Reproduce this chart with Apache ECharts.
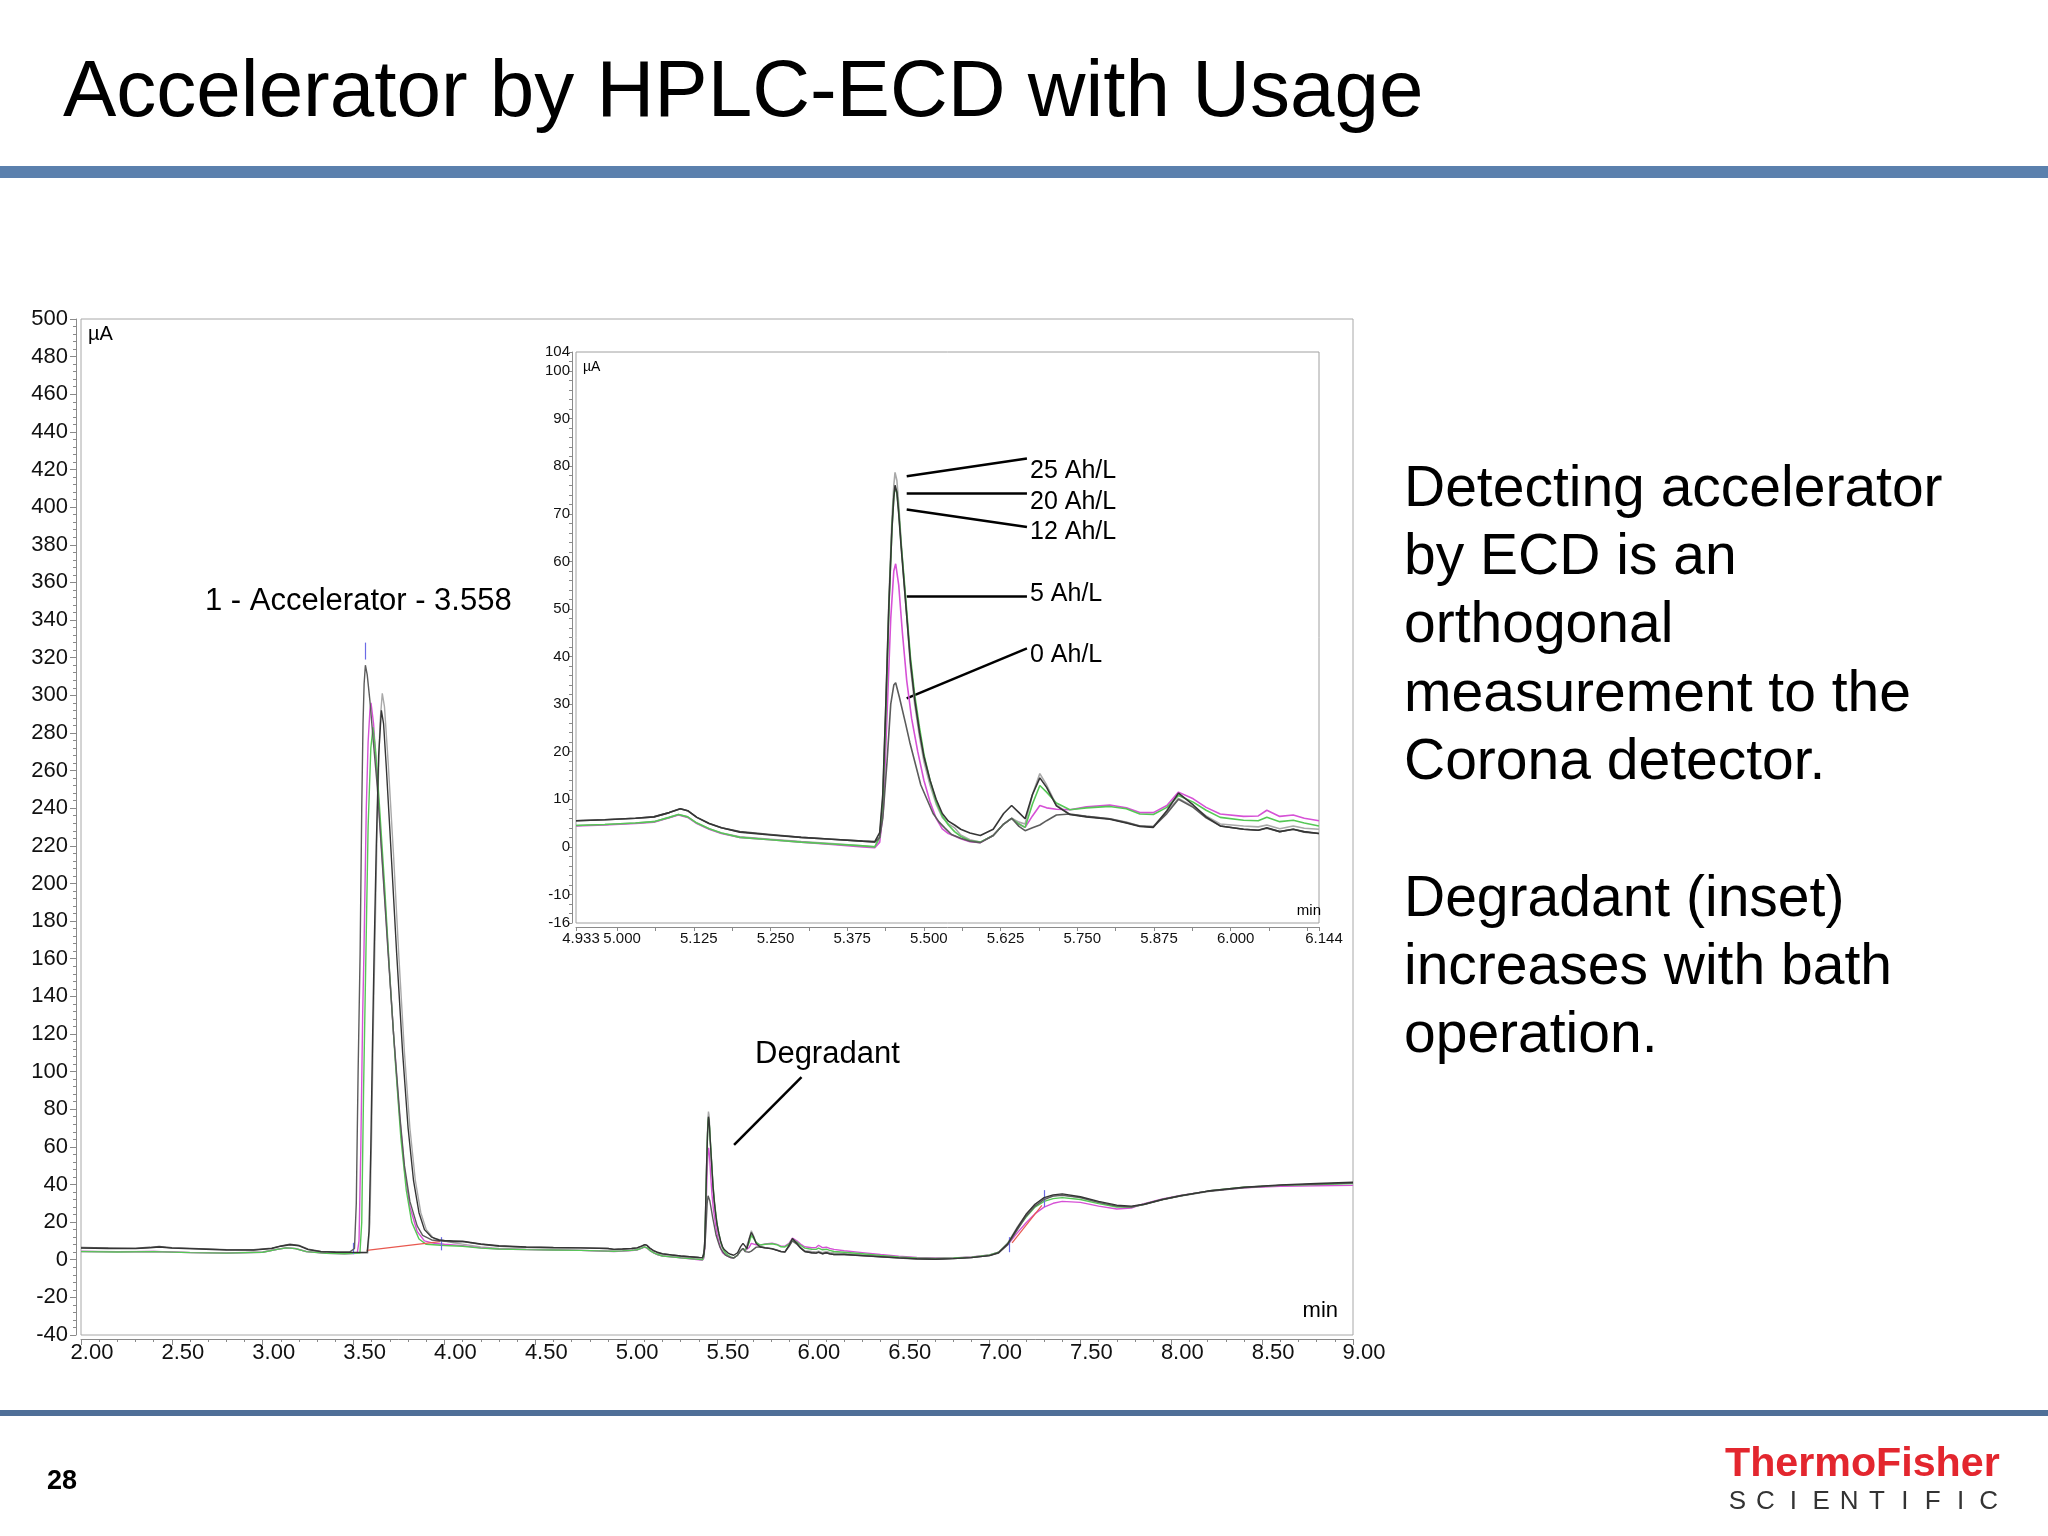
<!DOCTYPE html>
<html><head><meta charset="utf-8">
<script src="https://cdn.jsdelivr.net/npm/echarts@6/dist/echarts.min.js"></script>
<style>html,body{margin:0;padding:0;background:#fff}#c{width:2048px;height:1536px}</style>
</head><body><div id="c"></div>
<script>
// ---------- DATA (time in min, signal in µA) ----------
const traceNames = ['25 Ah/L', '20 Ah/L', '12 Ah/L', '5 Ah/L', '0 Ah/L'];

// main chromatogram, 2.00 - 4.93 min
const L25_pre = [[2.00,4.5],[2.20,4.3],[2.40,4.4],[2.60,3.9],[2.80,3.6],[3.00,4.1],[3.08,5.6],[3.13,6.4],[3.18,6.0],[3.24,4.4],[3.35,3.5],[3.45,3.3],[3.578,3.5],
 [3.59,20],[3.60,70],[3.61,130],[3.62,180],[3.632,240],[3.645,285],[3.658,301],[3.67,294],[3.69,265],[3.72,215],[3.75,160],[3.78,110],[3.81,70],[3.84,42],[3.87,25],[3.90,16],[3.94,11.5],[4.00,10],[4.05,9],[4.10,8.3],[4.20,6.8],[4.30,6.0],[4.45,5.6],[4.60,5.3],[4.75,5.0],[4.90,4.6]];
const L20_pre = [[2.00,6.2],[2.15,6.0],[2.30,5.9],[2.38,6.4],[2.43,6.8],[2.50,6.2],[2.65,5.7],[2.80,5.2],[2.95,5.1],[3.05,6.0],[3.10,7.2],[3.15,8.0],[3.20,7.4],[3.25,5.4],[3.32,4.3],[3.40,4.0],[3.50,3.9],[3.575,4.0],
 [3.585,15],[3.595,60],[3.605,120],[3.613,163],[3.625,220],[3.638,268],[3.653,292],[3.665,285],[3.68,262],[3.70,228],[3.737,163],[3.77,110],[3.80,70],[3.83,42],[3.86,25],[3.89,16],[3.93,12],[3.97,10.5],[4.00,10.2],[4.05,10.0],[4.10,9.8],[4.20,8.4],[4.30,7.4],[4.45,6.8],[4.60,6.5],[4.75,6.3],[4.90,6.0]];
const L12_pre = [[2.00,4.3],[2.20,4.1],[2.40,4.3],[2.60,3.8],[2.80,3.5],[3.00,4.0],[3.08,5.5],[3.13,6.3],[3.18,5.9],[3.24,4.3],[3.35,3.4],[3.45,3.2],[3.535,3.5],
 [3.545,20],[3.555,90],[3.568,163],[3.58,230],[3.595,272],[3.607,283],[3.62,272],[3.64,245],[3.67,200],[3.70,150],[3.73,105],[3.76,65],[3.79,37],[3.82,20],[3.86,11],[3.90,8.2],[4.00,7.6],[4.10,7.2],[4.20,6.2],[4.30,5.7],[4.45,5.4],[4.60,5.2],[4.75,5.0],[4.90,4.6]];
const L5_pre = [[2.00,4.4],[2.20,4.2],[2.40,4.4],[2.60,3.8],[2.80,3.5],[3.00,4.0],[3.08,5.5],[3.13,6.3],[3.18,5.9],[3.24,4.3],[3.35,3.4],[3.45,3.2],[3.52,3.4],
 [3.53,10],[3.54,60],[3.55,130],[3.557,163],[3.57,240],[3.58,275],[3.59,292],[3.596,296],[3.61,285],[3.63,255],[3.66,210],[3.69,165],[3.72,120],[3.75,80],[3.78,48],[3.81,28],[3.85,15],[3.89,10],[3.95,8.6],[4.00,8.2],[4.10,7.5],[4.20,6.3],[4.30,5.7],[4.45,5.4],[4.60,5.2],[4.75,5.0],[4.90,4.5]];
const L0_pre = [[2.00,6.5],[2.15,6.3],[2.30,6.1],[2.38,6.6],[2.43,7.0],[2.50,6.4],[2.65,5.9],[2.80,5.4],[2.95,5.3],[3.05,6.2],[3.10,7.4],[3.15,8.2],[3.20,7.6],[3.25,5.6],[3.32,4.4],[3.40,4.1],[3.48,4.2],
 [3.505,6],[3.515,30],[3.525,100],[3.536,163],[3.545,240],[3.552,285],[3.558,306],[3.565,316],[3.575,311],[3.59,297],[3.61,274],[3.63,252],[3.66,208],[3.69,163],[3.72,120],[3.756,75],[3.78,50],[3.81,31],[3.85,18],[3.88,13],[3.93,10.5],[4.00,9.8],[4.05,9.6],[4.10,9.6],[4.20,8.2],[4.30,7.2],[4.45,6.6],[4.60,6.4],[4.75,6.3],[4.90,6.0]];

// detail window 4.933 - 6.144 min (inset, also part of the main trace)
const L25_inset = [[4.933,4.5],[4.98,4.7],[5.03,5.0],[5.06,5.3],[5.085,6.2],[5.10,6.8],[5.115,6.3],[5.13,5.0],[5.15,3.8],[5.17,2.9],[5.20,2.1],[5.25,1.6],[5.30,1.1],[5.35,0.7],[5.40,0.2],[5.42,0.0],
 [5.428,2],[5.433,10],[5.438,30],[5.443,52],[5.448,69],[5.451,76],[5.453,78.7],[5.456,77],[5.459,72],[5.463,64],[5.468,55],[5.473,47],[5.478,38],[5.485,30],[5.493,23],[5.50,18],[5.51,13],[5.52,9],[5.53,6.2],[5.54,4.8],[5.55,4.0],[5.56,2.5],[5.575,1.5],[5.592,1.0],[5.613,2.4],[5.63,4.8],[5.643,6.0],[5.655,5.2],[5.665,4.8],[5.677,11],[5.689,15.4],[5.70,13],[5.716,8.8],[5.738,6.8],[5.765,6.4],[5.803,5.9],[5.83,5.2],[5.852,4.4],[5.874,4.3],[5.896,7.4],[5.915,10.2],[5.939,8.5],[5.96,6.5],[5.983,4.8],[6.021,4.4],[6.045,4.2],[6.059,4.6],[6.08,3.8],[6.102,4.4],[6.12,3.9],[6.144,3.7]];
const L20_inset = [[4.933,5.5],[4.98,5.7],[5.03,6.0],[5.06,6.3],[5.085,7.2],[5.103,8.0],[5.115,7.6],[5.13,6.2],[5.15,4.9],[5.17,4.0],[5.20,3.1],[5.25,2.5],[5.30,2.0],[5.35,1.6],[5.40,1.2],[5.42,1.1],
 [5.428,3],[5.433,11],[5.438,30],[5.443,51],[5.448,67],[5.451,73.5],[5.453,76],[5.456,74.5],[5.459,70],[5.463,63],[5.468,55],[5.473,47],[5.478,39],[5.485,31],[5.493,24],[5.50,19],[5.51,14],[5.52,10],[5.53,7],[5.54,5.4],[5.55,4.6],[5.56,3.7],[5.575,2.9],[5.592,2.4],[5.613,3.7],[5.63,7],[5.643,8.7],[5.655,7.2],[5.665,5.9],[5.677,11],[5.689,14.5],[5.70,12.5],[5.716,8.6],[5.738,6.8],[5.765,6.3],[5.803,5.8],[5.83,5.0],[5.852,4.3],[5.874,4.1],[5.896,7.6],[5.915,11.3],[5.939,8.8],[5.96,6.3],[5.983,4.4],[6.021,3.7],[6.045,3.5],[6.059,4.0],[6.08,3.2],[6.102,3.7],[6.12,3.2],[6.144,2.8]];
const L12_inset = [[4.933,4.5],[4.98,4.7],[5.03,5.0],[5.06,5.3],[5.085,6.2],[5.10,6.8],[5.115,6.3],[5.13,5.0],[5.15,3.8],[5.17,2.9],[5.20,2.0],[5.25,1.5],[5.30,1.0],[5.35,0.6],[5.40,0.2],[5.42,0.0],
 [5.428,2],[5.433,9],[5.438,28],[5.443,50],[5.448,67],[5.451,73.5],[5.453,75.5],[5.456,74.5],[5.459,70.5],[5.463,63.5],[5.468,56],[5.473,48],[5.478,40],[5.485,32],[5.493,25],[5.50,19.5],[5.51,14],[5.52,9.5],[5.53,6.5],[5.54,4.6],[5.55,3.2],[5.56,2.2],[5.575,1.3],[5.592,1.0],[5.613,2.4],[5.63,4.8],[5.643,6.0],[5.655,4.8],[5.665,4.1],[5.677,9],[5.689,12.9],[5.70,11.5],[5.716,9.2],[5.738,7.8],[5.765,8.2],[5.803,8.5],[5.83,8.0],[5.852,6.9],[5.874,6.8],[5.896,8.3],[5.915,10.8],[5.939,9.4],[5.96,7.7],[5.983,6.2],[6.021,5.6],[6.045,5.5],[6.059,6.2],[6.08,5.3],[6.102,5.6],[6.12,5.0],[6.144,4.4]];
const L5_inset = [[4.933,4.4],[4.98,4.6],[5.03,4.9],[5.06,5.2],[5.085,6.1],[5.10,6.7],[5.115,6.2],[5.13,4.9],[5.15,3.7],[5.17,2.8],[5.20,2.0],[5.25,1.5],[5.30,1.0],[5.35,0.5],[5.40,0.0],[5.42,-0.2],
 [5.428,1],[5.434,8],[5.44,28],[5.446,48],[5.451,58],[5.454,59.5],[5.459,55],[5.465,45],[5.472,35],[5.48,27],[5.49,20],[5.50,14],[5.51,9.5],[5.52,6],[5.53,3.8],[5.54,2.8],[5.55,2.3],[5.56,1.7],[5.575,1.1],[5.592,0.9],[5.613,2.4],[5.63,4.8],[5.643,6.0],[5.655,4.8],[5.665,4.1],[5.677,6.5],[5.689,8.7],[5.70,8.2],[5.716,7.9],[5.738,7.8],[5.765,8.4],[5.803,8.8],[5.83,8.2],[5.852,7.2],[5.874,7.2],[5.896,8.7],[5.915,11.5],[5.939,10.1],[5.96,8.3],[5.983,6.9],[6.021,6.4],[6.045,6.5],[6.059,7.7],[6.08,6.4],[6.102,6.7],[6.12,6.0],[6.144,5.5]];
const L0_inset = [[4.933,5.5],[4.98,5.7],[5.03,6.0],[5.06,6.3],[5.085,7.2],[5.103,8.0],[5.115,7.6],[5.13,6.2],[5.15,4.9],[5.17,4.0],[5.20,3.2],[5.25,2.6],[5.30,2.0],[5.35,1.6],[5.40,1.2],[5.42,1.0],
 [5.428,2],[5.433,6],[5.44,18],[5.446,30],[5.451,34],[5.454,34.5],[5.46,31.5],[5.47,26],[5.477,22],[5.485,18],[5.495,13],[5.505,10],[5.515,7],[5.525,5.2],[5.534,4.0],[5.545,2.6],[5.56,1.8],[5.575,1.2],[5.592,0.9],[5.613,2.4],[5.63,4.8],[5.643,6.0],[5.655,4.3],[5.665,3.4],[5.677,4.0],[5.689,4.6],[5.70,5.5],[5.716,6.7],[5.738,6.9],[5.765,6.4],[5.803,5.9],[5.83,5.1],[5.852,4.4],[5.874,4.2],[5.896,7.0],[5.915,10.0],[5.939,8.3],[5.96,6.1],[5.983,4.4],[6.021,3.7],[6.045,3.5],[6.059,3.9],[6.08,3.2],[6.102,3.7],[6.12,3.1],[6.144,2.8]];

// main chromatogram, 6.2 - 9.0 min
const L25_post = [[6.20,3.4],[6.30,2.8],[6.40,2.0],[6.50,1.3],[6.60,0.8],[6.70,0.6],[6.80,0.8],[6.90,1.3],[7.00,2.4],[7.05,4.0],[7.10,9],[7.15,17],[7.20,24],[7.25,29.5],[7.30,32.5],[7.35,34],[7.40,34.5],[7.50,33],[7.60,30.5],[7.70,28.5],[7.78,28.2],[7.85,29.5],[7.95,32],[8.05,34],[8.20,36.5],[8.40,38.5],[8.60,39.5],[8.80,40.2],[9.00,41]];
const L20_post = [[6.20,2.8],[6.30,2.2],[6.40,1.6],[6.50,1.0],[6.60,0.5],[6.70,0.3],[6.80,0.6],[6.90,1.1],[7.00,2.2],[7.05,3.8],[7.10,8.5],[7.15,16.5],[7.20,24],[7.25,29.5],[7.30,33],[7.35,34.5],[7.40,35],[7.50,33.5],[7.60,31],[7.70,29],[7.78,28.5],[7.85,29.5],[7.95,32],[8.05,34],[8.20,36.5],[8.40,38.5],[8.60,39.8],[8.80,40.5],[9.00,41.2]];
const L12_post = [[6.20,4.0],[6.30,3.2],[6.40,2.3],[6.50,1.5],[6.60,0.9],[6.70,0.7],[6.80,0.9],[6.90,1.4],[7.00,2.5],[7.05,4.0],[7.10,8.5],[7.15,16],[7.20,22.5],[7.25,28],[7.30,31],[7.35,32.5],[7.40,33],[7.50,32],[7.60,29.8],[7.70,28],[7.78,28],[7.85,29.5],[7.95,32],[8.05,34],[8.20,36.5],[8.40,38.5],[8.60,39.5],[8.80,40],[9.00,40.5]];
const L5_post = [[6.20,4.8],[6.30,3.8],[6.40,2.8],[6.50,1.9],[6.60,1.2],[6.70,0.9],[6.80,1.0],[6.90,1.5],[7.00,2.5],[7.05,4.0],[7.10,8],[7.15,14],[7.20,19.5],[7.25,24.5],[7.30,28],[7.35,30],[7.40,31],[7.50,30.5],[7.60,28.5],[7.70,27],[7.78,27.5],[7.85,29.8],[7.95,32.3],[8.05,34.2],[8.20,36.5],[8.40,38.2],[8.60,39],[8.80,39.3],[9.00,39.5]];
const L0_post = [[6.20,2.8],[6.30,2.1],[6.40,1.5],[6.50,0.9],[6.60,0.4],[6.70,0.3],[6.80,0.6],[6.90,1.1],[7.00,2.2],[7.05,3.6],[7.10,8],[7.15,15.5],[7.20,23],[7.25,28.5],[7.30,32],[7.35,33.8],[7.40,34.2],[7.50,33],[7.60,30.5],[7.70,28.5],[7.78,28],[7.85,29.3],[7.95,31.8],[8.05,33.8],[8.20,36.3],[8.40,38.3],[8.60,39.5],[8.80,40.2],[9.00,40.8]];

// integration baselines (red) and peak markers (blue)
const integrationBaselines = [[[3.572,5.0],[3.976,9.6]], [[7.124,9.0],[7.288,28.9]]];
const peakMarkers = [[3.50,3,9],[3.565,319,328],[3.98,5,12],[7.11,4,12],[7.30,28,37]];

// tick labels
const insetXLabels = [4.933,5.000,5.125,5.250,5.375,5.500,5.625,5.750,5.875,6.000,6.144];
const insetYLabels = [-16,-10,0,10,20,30,40,50,60,70,80,90,100,104];

// annotation leader lines (inset: label for each trace)
const insetLeaders = [
  [[5.472,77.9],[5.668,81.6]],
  [[5.472,74.3],[5.668,74.3]],
  [[5.472,70.9],[5.668,67.2]],
  [[5.472,52.7],[5.668,52.7]],
  [[5.472,31.2],[5.668,41.7]]
];
const degradantLeader = [[5.965,97],[5.594,61]];

const bodyLines = ['Detecting accelerator','by ECD is an','orthogonal','measurement to the','Corona detector.','','Degradant (inset)','increases with bath','operation.'];

// ---------- CHART ----------
const FONT = "'Liberation Sans', Arial, Helvetica, sans-serif";
const traces = [
  {name:traceNames[0], color:'#a9a9a9', pre:L25_pre, inset:L25_inset, post:L25_post},
  {name:traceNames[3], color:'#d651d6', pre:L5_pre,  inset:L5_inset,  post:L5_post},
  {name:traceNames[2], color:'#55c855', pre:L12_pre, inset:L12_inset, post:L12_post},
  {name:traceNames[4], color:'#5c5c5c', pre:L0_pre,  inset:L0_inset,  post:L0_post},
  {name:traceNames[1], color:'#353535', pre:L20_pre, inset:L20_inset, post:L20_post}
];

const chart = echarts.init(document.getElementById('c'));

const series = [];
traces.forEach((t, i) => {
  series.push({
    type:'line', name:t.name, xAxisIndex:0, yAxisIndex:0,
    data: t.pre.concat(t.inset, t.post),
    showSymbol:false, symbol:'none', clip:true, z:2+i,
    lineStyle:{color:t.color, width:1.4}
  });
});
traces.forEach((t, i) => {
  series.push({
    type:'line', name:t.name + ' (inset)', xAxisIndex:1, yAxisIndex:1,
    data: t.inset, showSymbol:false, symbol:'none', clip:true, z:12+i,
    lineStyle:{color:t.color, width:1.6}
  });
});

const ml = (p1, p2, color, width) => [{coord:p1, lineStyle:{color:color, width:width, type:'solid'}}, {coord:p2}];
series[4].markLine = {
  silent:true, symbol:['none','none'], animation:false, label:{show:false},
  emphasis:{disabled:true},
  data: [ml(degradantLeader[0], degradantLeader[1], '#000', 2.5)]
    .concat(integrationBaselines.map(s => ml(s[0], s[1], '#e8584f', 1.2)))
    .concat(peakMarkers.map(m => ml([m[0], m[1]], [m[0], m[2]], '#6b6be6', 1.2)))
};
series[9].markLine = {
  silent:true, symbol:['none','none'], animation:false, label:{show:false},
  emphasis:{disabled:true},
  data: insetLeaders.map(s => ml(s[0], s[1], '#000', 2.5))
};

const insetTicks = [];
for (let v = -16; v <= 104; v += 2) insetTicks.push(v);
const insetXTicks = [4.933];
for (let v = 5.0; v <= 6.13; v += 0.0625) insetXTicks.push(+v.toFixed(4));
insetXTicks.push(6.144);

const axisCol = '#8a8a8a';
const option = {
  animation:false,
  backgroundColor:'#ffffff',
  textStyle:{fontFamily:FONT},
  grid:[
    {left:81, top:319, width:1272, height:1016, show:true, borderColor:'#a8a8a8', borderWidth:1, backgroundColor:'rgba(0,0,0,0)', containLabel:false},
    {left:576, top:352, width:743, height:571, show:true, borderColor:'#a0a0a0', borderWidth:1, backgroundColor:'#ffffff', containLabel:false, z:5}
  ],
  xAxis:[
    {type:'value', gridIndex:0, min:2, max:9, interval:0.5, offset:4, position:'bottom',
     axisLine:{show:true, onZero:false, lineStyle:{color:axisCol}}, axisTick:{show:true, length:6, lineStyle:{color:axisCol}},
     minorTick:{show:true, splitNumber:5, length:3, lineStyle:{color:axisCol}},
     splitLine:{show:false}, minorSplitLine:{show:false},
     axisLabel:{formatter:v => v.toFixed(2), fontSize:22, color:'#111', margin:3, fontFamily:FONT, padding:[0,0,0,22]}},
    {type:'value', gridIndex:1, min:4.933, max:6.144, offset:4, position:'bottom', z:6,
     axisLine:{show:true, onZero:false, lineStyle:{color:axisCol}},
     axisTick:{show:true, length:4, customValues:insetXTicks, lineStyle:{color:axisCol}},
     splitLine:{show:false},
     axisLabel:{customValues:insetXLabels, formatter:v => v.toFixed(3), fontSize:15, color:'#111', margin:4, fontFamily:FONT, hideOverlap:false, padding:[0,0,0,10]}}
  ],
  yAxis:[
    {type:'value', gridIndex:0, min:-40, max:500, interval:20, offset:5,
     axisLine:{show:true, onZero:false, lineStyle:{color:axisCol}}, axisTick:{show:true, length:6, lineStyle:{color:axisCol}},
     minorTick:{show:true, splitNumber:5, length:3, lineStyle:{color:axisCol}},
     splitLine:{show:false}, minorSplitLine:{show:false},
     axisLabel:{fontSize:22, color:'#111', margin:8, fontFamily:FONT}},
    {type:'value', gridIndex:1, min:-16, max:104, offset:4, z:6,
     axisLine:{show:true, onZero:false, lineStyle:{color:axisCol}},
     axisTick:{show:true, length:3, customValues:insetTicks, lineStyle:{color:axisCol}},
     splitLine:{show:false},
     axisLabel:{customValues:insetYLabels, fontSize:15, color:'#111', margin:2, fontFamily:FONT, hideOverlap:false}}
  ],
  series: series
};
chart.setOption(option);

// ---------- PAGE TEXT / DECORATION ----------
const txt = (x, y, text, size, opts) => Object.assign({
  type:'text', x:x, y:y, z:100, silent:true,
  style:Object.assign({text:text, fontSize:size, fontFamily:FONT, fill:'#000', align:'left', verticalAlign:'middle'}, (opts && opts.style) || {})
}, opts && opts.el || {});

const graphics = [
  {type:'rect', shape:{x:0, y:166, width:2048, height:12}, style:{fill:'#5b80ad'}, silent:true, z:100},
  {type:'rect', shape:{x:0, y:1410, width:2048, height:6}, style:{fill:'#4f6f98'}, silent:true, z:100},
  txt(63, 94, 'Accelerator by HPLC-ECD with Usage', 80),
  {type:'text', x:1404, y:456, z:100, silent:true,
   style:{text:bodyLines.join('\n'), fontSize:57, lineHeight:68.3, fontFamily:FONT, fill:'#000', align:'left', verticalAlign:'top'}},
  txt(47, 1482, '28', 27, {style:{fontWeight:'bold'}}),
  txt(1725, 1465, 'ThermoFisher', 40, {style:{fontWeight:'bold', fill:'#e3262e'}, el:{scaleX:1.03}}),
  txt(205, 601, '1 - Accelerator - 3.558', 31),
  txt(755, 1054, 'Degradant', 31),
  txt(88, 334, 'µA', 20),
  txt(1338, 1311, 'min', 22, {style:{align:'right'}}),
  txt(583, 367, 'µA', 14),
  txt(1321, 911, 'min', 15, {style:{align:'right'}})
];
const labelY = [471, 502, 532, 594, 655];
traceNames.forEach((n, i) => graphics.push(txt(1030, labelY[i], n, 25)));
'SCIENTIFIC'.split('').forEach((ch, i) => graphics.push(txt(1737.5 + i * 27.9, 1502, ch, 26, {style:{fill:'#333', align:'center'}})));

chart.setOption({graphic:graphics});
</script>
</body></html>
